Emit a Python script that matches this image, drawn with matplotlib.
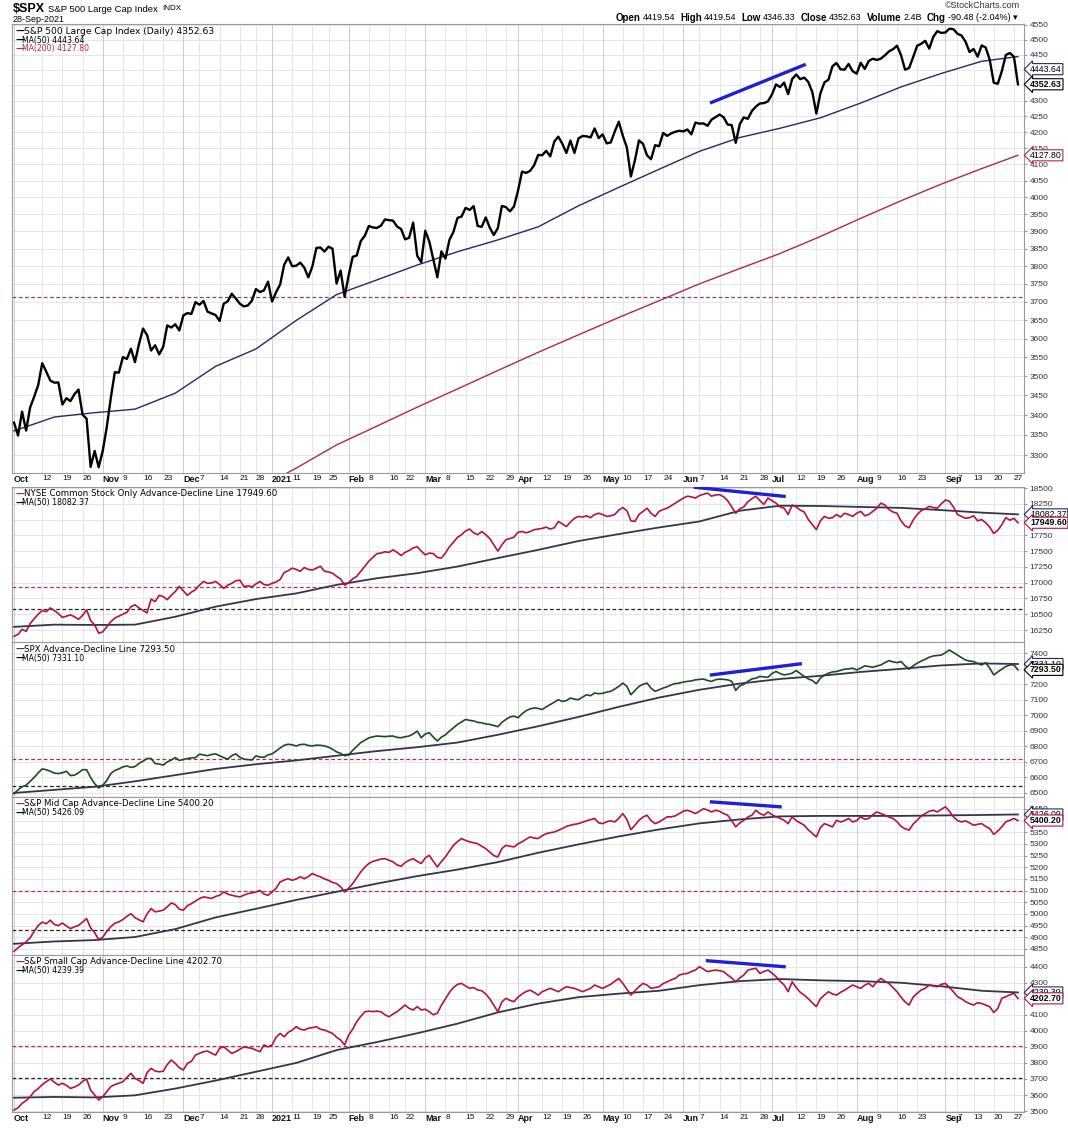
import numpy as np
import pandas as pd
import matplotlib
matplotlib.use('Agg')
import matplotlib.pyplot as plt
from matplotlib.ticker import FixedLocator, NullLocator

# trading days on the chart (Oct 1 2020 .. Sep 28 2021)
holidays = ['2020-11-26', '2020-12-25', '2021-01-01', '2021-01-18', '2021-02-15',
            '2021-04-02', '2021-05-31', '2021-07-05', '2021-09-06']
days = pd.bdate_range('2020-10-01', '2021-09-28')
days = days[~days.isin(pd.to_datetime(holidays))]

tick_dates = ['2020-10-01', '2020-10-12', '2020-10-19', '2020-10-26', '2020-11-02', '2020-11-09',
              '2020-11-16', '2020-11-23', '2020-12-01', '2020-12-07', '2020-12-14', '2020-12-21',
              '2020-12-28', '2021-01-04', '2021-01-11', '2021-01-19', '2021-01-25', '2021-02-01',
              '2021-02-08', '2021-02-16', '2021-02-22', '2021-03-01', '2021-03-08', '2021-03-15',
              '2021-03-22', '2021-03-29', '2021-04-01', '2021-04-12', '2021-04-19', '2021-04-26',
              '2021-05-03', '2021-05-10', '2021-05-17', '2021-05-24', '2021-06-01', '2021-06-07',
              '2021-06-14', '2021-06-21', '2021-06-28', '2021-07-01', '2021-07-12', '2021-07-19',
              '2021-07-26', '2021-08-02', '2021-08-09', '2021-08-16', '2021-08-23', '2021-09-01',
              '2021-09-07', '2021-09-13', '2021-09-20', '2021-09-27']
tick_labels = ['Oct', '12', '19', '26', 'Nov', '9', '16', '23', 'Dec', '7', '14', '21', '28',
               '2021', '11', '19', '25', 'Feb', '8', '16', '22', 'Mar', '8', '15', '22', '29',
               'Apr', '12', '19', '26', 'May', '10', '17', '24', 'Jun', '7', '14', '21', '28',
               'Jul', '12', '19', '26', 'Aug', '9', '16', '23', 'Sep', '7', '13', '20', '27']

# $SPX daily close
spx_close = [
    3380.8, 3348.4, 3408.6, 3360.9, 3419.4, 3446.8, 3477.1, 3534.2, 3511.9, 3488.7,
    3483.3, 3483.8, 3426.9, 3443.1, 3435.6, 3453.5, 3465.4, 3401.0, 3390.7, 3271.0,
    3310.1, 3270.0, 3310.2, 3369.2, 3443.4, 3510.5, 3509.4, 3550.5, 3545.5, 3572.7,
    3537.0, 3585.2, 3626.9, 3609.5, 3567.8, 3581.9, 3557.5, 3577.6, 3635.4, 3629.6,
    3638.4, 3621.6, 3662.5, 3669.0, 3666.7, 3699.1, 3692.0, 3702.3, 3672.8, 3668.1,
    3663.5, 3647.5, 3694.6, 3701.2, 3722.5, 3709.4, 3694.9, 3687.3, 3690.0, 3703.1,
    3735.4, 3727.0, 3732.0, 3756.1, 3700.7, 3726.9, 3748.1, 3803.8, 3824.7, 3799.6,
    3801.2, 3809.8, 3795.5, 3768.3, 3798.9, 3851.9, 3853.1, 3841.5, 3855.4, 3849.6,
    3750.8, 3787.4, 3714.2, 3773.9, 3826.3, 3830.2, 3871.7, 3886.8, 3915.6, 3911.2,
    3909.9, 3916.4, 3934.8, 3932.6, 3931.3, 3914.0, 3906.7, 3876.5, 3881.4, 3925.4,
    3829.3, 3811.2, 3901.8, 3870.3, 3819.7, 3768.5, 3841.9, 3821.4, 3875.4, 3898.8,
    3939.3, 3943.3, 3968.9, 3962.7, 3974.1, 3915.5, 3913.1, 3940.6, 3910.5, 3889.1,
    3909.5, 3974.5, 3971.1, 3958.6, 3972.9, 4019.9, 4077.9, 4073.9, 4080.0, 4097.2,
    4128.8, 4128.0, 4141.6, 4124.7, 4170.4, 4185.5, 4163.3, 4134.9, 4173.4, 4135.0,
    4180.2, 4187.6, 4186.7, 4183.2, 4211.5, 4181.2, 4192.7, 4164.7, 4167.6, 4201.6,
    4232.6, 4188.4, 4152.1, 4063.0, 4112.5, 4173.9, 4163.3, 4127.8, 4115.7, 4159.1,
    4155.9, 4197.1, 4188.1, 4196.0, 4200.9, 4204.1, 4202.0, 4208.1, 4192.9, 4229.9,
    4226.5, 4227.3, 4219.6, 4239.2, 4247.4, 4255.2, 4246.6, 4223.7, 4221.9, 4166.5,
    4224.8, 4246.4, 4241.8, 4266.5, 4280.7, 4290.6, 4291.8, 4297.5, 4319.9, 4352.3,
    4343.5, 4358.1, 4320.8, 4369.6, 4384.6, 4369.2, 4374.3, 4360.0, 4327.2, 4258.5,
    4323.1, 4358.7, 4367.5, 4411.8, 4422.3, 4401.5, 4400.6, 4419.2, 4395.3, 4387.2,
    4423.2, 4402.7, 4429.1, 4436.5, 4432.4, 4436.8, 4447.7, 4460.8, 4468.0, 4479.7,
    4448.1, 4400.3, 4405.8, 4441.7, 4479.5, 4486.2, 4496.2, 4469.9, 4509.4, 4528.8,
    4522.7, 4524.1, 4537.0, 4535.4, 4520.0, 4514.1, 4493.3, 4458.6, 4468.7, 4443.1,
    4480.7, 4473.8, 4433.0, 4357.7, 4354.2, 4395.6, 4449.0, 4455.5, 4443.1, 4352.63]

nyse_ad = [
    16150, 16180, 16260, 16230, 16350, 16430, 16500, 16560, 16540, 16600,
    16560, 16510, 16450, 16470, 16490, 16460, 16420, 16480, 16570, 16400,
    16330, 16200, 16220, 16300, 16380, 16440, 16470, 16500, 16530, 16620,
    16650, 16600, 16560, 16520, 16740, 16700, 16800, 16780, 16730, 16800,
    16860, 16940, 16870, 16800, 16850, 16890, 16960, 17020, 16990, 16995,
    17020, 16970, 16910, 16960, 16990, 17030, 17040, 16940, 16950, 16935,
    16980, 17020, 16970, 16960, 16990, 17010, 17050, 17160, 17190, 17230,
    17210, 17180, 17240, 17210, 17200, 17230, 17260, 17180, 17170, 17150,
    17100, 17060, 16960, 17000, 17060, 17100, 17180, 17260, 17340, 17400,
    17460, 17470, 17490, 17480, 17520, 17480, 17430, 17480, 17510, 17550,
    17570, 17500, 17440, 17470, 17460, 17400, 17390, 17470, 17570, 17640,
    17720, 17760, 17820, 17850, 17790, 17760, 17810, 17760, 17700, 17600,
    17500, 17600, 17680, 17700, 17720, 17800, 17810, 17790, 17810, 17840,
    17850, 17860, 17880, 17850, 17870, 17970, 17930, 17890, 17960, 18020,
    18050, 18040, 18060, 18030, 18080, 18100, 18080, 18050, 18060, 18080,
    18150, 18190, 18140, 17980, 17970, 18080, 18130, 18180, 18100, 18050,
    18130, 18160, 18180, 18220, 18260, 18300, 18340, 18370, 18360, 18340,
    18380, 18400, 18420, 18370, 18390, 18395, 18360, 18300, 18200, 18100,
    18170, 18200, 18280, 18330, 18370, 18300, 18240, 18340, 18300, 18260,
    18200, 18180, 18080, 18230, 18200, 18150, 18120, 18000, 17920, 17840,
    17980, 18050, 18020, 18030, 18080, 18040, 18100, 18080, 18050, 18100,
    18130, 18060, 18080, 18130, 18180, 18260, 18230, 18160, 18120, 18100,
    17980, 17900, 17870, 17990, 18080, 18140, 18170, 18210, 18190, 18180,
    18250, 18310, 18290, 18200, 18080, 18050, 18020, 18030, 18060, 17980,
    18000, 17950, 17880, 17780, 17830, 17920, 18030, 17990, 18020, 17949.60]

spx_ad = [
    6495, 6520, 6540, 6550, 6575, 6600, 6630, 6655, 6650, 6640,
    6628, 6625, 6630, 6640, 6612, 6615, 6630, 6650, 6650, 6600,
    6560, 6532, 6550, 6580, 6625, 6645, 6655, 6668, 6674, 6665,
    6670, 6690, 6705, 6722, 6722, 6690, 6686, 6680, 6700, 6712,
    6728, 6710, 6715, 6722, 6726, 6728, 6750, 6745, 6740, 6748,
    6752, 6740, 6728, 6718, 6740, 6752, 6730, 6718, 6715, 6712,
    6739, 6732, 6730, 6745, 6752, 6770, 6790, 6807, 6814, 6810,
    6803, 6812, 6814, 6806, 6803, 6808, 6807, 6803, 6795, 6782,
    6765, 6755, 6740, 6745, 6775, 6800, 6825, 6840, 6855, 6862,
    6867, 6865, 6863, 6866, 6867, 6858, 6856, 6862, 6867, 6880,
    6899, 6856, 6880, 6888, 6860, 6835, 6860, 6875, 6899, 6920,
    6942, 6958, 6974, 6968, 6964, 6955, 6952, 6945, 6942, 6935,
    6927, 6955, 6974, 6990, 6995, 6985, 7010, 7030, 7042, 7048,
    7045, 7038, 7055, 7070, 7085, 7101, 7090, 7095, 7112, 7105,
    7101, 7118, 7133, 7127, 7144, 7140, 7142, 7150, 7155, 7170,
    7187, 7208, 7187, 7133, 7160, 7187, 7200, 7208, 7175, 7155,
    7165, 7176, 7185, 7197, 7205, 7208, 7215, 7219, 7222, 7229,
    7232, 7234, 7225, 7219, 7230, 7234, 7232, 7229, 7220, 7161,
    7190, 7200, 7219, 7235, 7240, 7251, 7248, 7246, 7270, 7283,
    7270, 7261, 7265, 7272, 7289, 7270, 7251, 7235, 7225, 7204,
    7240, 7260, 7272, 7280, 7283, 7290, 7298, 7300, 7304, 7293,
    7305, 7319, 7315, 7310, 7318, 7325, 7340, 7353, 7345, 7340,
    7347, 7320, 7298, 7320, 7336, 7350, 7362, 7375, 7383, 7386,
    7389, 7404, 7421, 7405, 7389, 7372, 7357, 7350, 7347, 7335,
    7325, 7340, 7304, 7261, 7280, 7298, 7315, 7325, 7325, 7293.50]

mid_ad = [
    4840, 4855, 4868, 4880, 4898, 4925, 4950, 4965, 4958, 4973,
    4955, 4950, 4961, 4948, 4937, 4945, 4951, 4965, 4980, 4940,
    4920, 4890, 4900, 4925, 4945, 4960, 4966, 4976, 4990, 5001,
    4984, 4975, 4966, 5000, 5023, 5009, 5012, 5016, 5030, 5047,
    5040, 5020, 5016, 5035, 5044, 5055, 5066, 5073, 5070, 5066,
    5075, 5080, 5094, 5085, 5080, 5076, 5073, 5080, 5087, 5090,
    5094, 5101, 5085, 5080, 5094, 5110, 5137, 5145, 5151, 5144,
    5150, 5159, 5151, 5160, 5173, 5165, 5159, 5150, 5144, 5135,
    5130, 5116, 5094, 5110, 5130, 5155, 5180, 5200, 5216, 5225,
    5230, 5235, 5237, 5230, 5223, 5210, 5204, 5220, 5230, 5237,
    5225, 5216, 5240, 5251, 5225, 5201, 5225, 5244, 5270, 5294,
    5310, 5323, 5315, 5309, 5305, 5301, 5290, 5280, 5265, 5250,
    5244, 5280, 5294, 5290, 5287, 5300, 5309, 5320, 5330, 5325,
    5323, 5335, 5344, 5348, 5351, 5358, 5366, 5375, 5380, 5384,
    5387, 5393, 5399, 5404, 5409, 5390, 5387, 5395, 5399, 5394,
    5410, 5430, 5405, 5361, 5380, 5401, 5415, 5423, 5400, 5387,
    5394, 5405, 5416, 5416, 5420, 5430, 5440, 5444, 5438, 5430,
    5440, 5451, 5445, 5437, 5444, 5440, 5430, 5423, 5400, 5373,
    5390, 5401, 5415, 5423, 5444, 5430, 5423, 5437, 5425, 5416,
    5410, 5401, 5387, 5416, 5400, 5390, 5380, 5360, 5345, 5330,
    5370, 5387, 5380, 5373, 5401, 5394, 5400, 5409, 5394, 5400,
    5416, 5405, 5409, 5425, 5437, 5430, 5423, 5415, 5409, 5395,
    5375, 5365, 5359, 5385, 5401, 5420, 5430, 5440, 5444, 5437,
    5448, 5459, 5440, 5416, 5400, 5394, 5399, 5390, 5380, 5384,
    5387, 5375, 5366, 5341, 5355, 5373, 5395, 5401, 5409, 5400.20]

small_ad = [
    3506, 3520, 3548, 3565, 3589, 3621, 3640, 3665, 3683, 3700,
    3680, 3662, 3673, 3660, 3641, 3650, 3662, 3685, 3700, 3631,
    3600, 3569, 3589, 3620, 3652, 3665, 3673, 3683, 3710, 3735,
    3704, 3690, 3673, 3740, 3766, 3749, 3745, 3748, 3790, 3818,
    3797, 3770, 3756, 3797, 3810, 3849, 3860, 3870, 3874, 3860,
    3849, 3891, 3901, 3880, 3860, 3870, 3885, 3901, 3895, 3891,
    3880, 3870, 3912, 3900, 3912, 3960, 3984, 3963, 3990, 4005,
    4026, 4010, 4005, 4016, 4020, 4026, 4010, 4005, 3995, 3984,
    3960, 3943, 3912, 3974, 4010, 4057, 4090, 4119, 4123, 4120,
    4123, 4119, 4100, 4088, 4105, 4119, 4140, 4161, 4140, 4130,
    4151, 4130, 4135, 4119, 4100, 4110, 4160, 4200, 4240, 4270,
    4290, 4296, 4280, 4265, 4270, 4255, 4250, 4230, 4200, 4160,
    4119, 4180, 4203, 4190, 4182, 4210, 4230, 4245, 4254, 4240,
    4223, 4244, 4255, 4265, 4255, 4244, 4260, 4275, 4270, 4265,
    4255, 4244, 4255, 4265, 4286, 4275, 4265, 4278, 4290, 4310,
    4327, 4296, 4260, 4223, 4250, 4275, 4296, 4285, 4265, 4270,
    4275, 4295, 4306, 4318, 4327, 4348, 4355, 4358, 4370, 4379,
    4400, 4385, 4369, 4375, 4379, 4375, 4369, 4348, 4330, 4306,
    4330, 4348, 4379, 4385, 4390, 4358, 4370, 4379, 4360, 4338,
    4310, 4286, 4244, 4306, 4270, 4240, 4223, 4200, 4175, 4151,
    4200, 4223, 4244, 4230, 4223, 4240, 4254, 4270, 4286, 4275,
    4265, 4285, 4296, 4275, 4306, 4327, 4310, 4296, 4270, 4244,
    4210, 4180, 4161, 4210, 4234, 4255, 4265, 4286, 4280, 4275,
    4290, 4296, 4270, 4244, 4213, 4200, 4182, 4170, 4161, 4175,
    4171, 4161, 4150, 4115, 4140, 4203, 4213, 4225, 4234, 4202.70]

# moving averages, read every 10 trading days
ma_idx = list(range(0, 250, 10)) + [249]
spx_ma50 = [3360, 3395, 3406, 3415, 3456, 3526, 3572, 3649, 3720, 3761, 3803, 3841, 3875,
            3913, 3975, 4030, 4085, 4140, 4183, 4212, 4245, 4292, 4344, 4388, 4428, 4443.64]
ma200_idx = [64] + list(range(70, 250, 10)) + [249]
spx_ma200 = [3236, 3268, 3325, 3372, 3420, 3467, 3515, 3563, 3610, 3657, 3703, 3750, 3793,
             3836, 3885, 3938, 3990, 4040, 4087, 4127.80]
nyse_ma50 = [16300, 16335, 16330, 16335, 16460, 16620, 16740, 16830, 16965, 17070, 17150,
             17256, 17390, 17520, 17660, 17770, 17875, 17970, 18140, 18220, 18215, 18200,
             18185, 18150, 18110, 18082.37]
spxad_ma50 = [6500, 6520, 6540, 6575, 6615, 6655, 6685, 6710, 6740, 6770, 6795, 6825, 6875,
              6930, 6990, 7055, 7115, 7165, 7205, 7235, 7255, 7280, 7300, 7322, 7335, 7331.10]
mid_ma50 = [4872, 4882, 4888, 4901, 4935, 4985, 5022, 5060, 5095, 5130, 5162, 5190, 5222,
            5262, 5298, 5332, 5362, 5388, 5405, 5418, 5420, 5420, 5420, 5422, 5424, 5426.09]
small_ma50 = [3583, 3588, 3585, 3598, 3640, 3690, 3745, 3800, 3880, 3930, 3985, 4045, 4115,
              4170, 4210, 4232, 4250, 4285, 4310, 4323, 4315, 4310, 4300, 4278, 4250, 4239.39]

# drawn annotation lines (blue)
spx_trend = (['2021-06-10', '2021-07-14'], [4294, 4416])
nyse_trend = (['2021-06-04', '2021-07-07'], [18510, 18368])
spxad_trend = (['2021-06-10', '2021-07-13'], [7261, 7332])
mid_trend = (['2021-06-10', '2021-07-06'], [5480, 5459])
small_trend = (['2021-06-09', '2021-07-07'], [4437, 4400])

# horizontal dashed levels
spx_levels = [3714]
nyse_levels = [16925, 16585]
spxad_levels = [6722, 6547]
mid_levels = [5097, 4930]
small_levels = [3907, 3704]

W, H = 1068, 1128
RED = '#b3143c'
NAVY = '#23286a'
GRAY_MA = '#34344e'
BLUE = '#1f1fd8'
SANS = ['Liberation Sans', 'DejaVu Sans']

x = np.arange(len(days))
tick_pos = [days.get_loc(pd.Timestamp(d)) for d in tick_dates]


def pos(d):
    return [days.get_loc(pd.Timestamp(s)) for s in d]


def is_month(lab):
    return not lab.isdigit() or lab == '2021'


fig = plt.figure(figsize=(W / 100, H / 100), dpi=100)
renderer = fig.canvas.get_renderer()


def fig_text(px, py, s, **kw):
    return fig.text(px / W, 1 - py / H, s, va='center', **kw)


def text_row(py, parts, left=None, right=None):
    # parts: (text, fontsize, bold, gap_after)
    objs = [fig_text(0, py, s, fontsize=fs, fontweight='bold' if b else 'normal', family=SANS)
            for s, fs, b, g in parts]
    widths = [t.get_window_extent(renderer).width for t in objs]
    total = sum(widths) + sum(g for _, _, _, g in parts[:-1])
    px = left if left is not None else right - total
    for t, w, (_, _, _, g) in zip(objs, widths, parts):
        t.set_x(px / W)
        px += w + g


def make_axes(top, bottom, ylim, yticks, show_x, log=False):
    ax = fig.add_axes([12 / W, 1 - bottom / H, 1012 / W, (bottom - top) / H])
    if log:
        ax.set_yscale('log')
    ax.set_xlim(-0.5, 250.5)
    ax.set_ylim(*ylim)
    ax.yaxis.set_major_locator(FixedLocator(yticks))
    ax.yaxis.set_minor_locator(NullLocator())
    ax.set_yticklabels(['%d' % v for v in yticks], family='Liberation Sans')
    ax.yaxis.tick_right()
    ax.tick_params(axis='y', labelsize=6, length=2, pad=2, color='#999999', labelcolor='#333333')
    for v in yticks:
        ax.axhline(v, color='#e6e6e6', lw=0.7, zorder=0)
    for p, lab in zip(tick_pos, tick_labels):
        ax.axvline(p, color='#cccccc' if is_month(lab) else '#e6e6e6', lw=0.7, zorder=0)
    ax.set_xticks(tick_pos)
    if show_x:
        ax.set_xticklabels(tick_labels, family='Liberation Sans', fontsize=6)
        for t, lab in zip(ax.get_xticklabels(), tick_labels):
            t.set_ha('left')
            if is_month(lab):
                t.set_fontweight('bold')
                t.set_fontsize(6.5)
        ax.tick_params(axis='x', length=0, pad=1.5, labelcolor='#111111')
    else:
        ax.tick_params(axis='x', length=0, labelbottom=False)
    for s in ax.spines.values():
        s.set_color('#9a9a9a')
        s.set_linewidth(0.8)
    return ax


def tag(ax, val, edge, bold=False, at=None):
    ax.text(1.006, val if at is None else at, '%.2f' % val, transform=ax.get_yaxis_transform(),
            ha='left', va='center', fontsize=6.3, family='Liberation Sans',
            fontweight='bold' if bold else 'normal', color='black',
            zorder=10 if bold else 9, clip_on=False,
            bbox=dict(boxstyle='larrow,pad=0.12', fc='white', ec=edge, lw=0.8))


def legend(top, dash_color, label, ma_label):
    fig_text(15, top + 7, '\u2014', color=dash_color, fontsize=6.5, fontweight='bold')
    fig_text(24, top + 7, label, color='black', fontsize=6.2)
    fig_text(15, top + 16, '\u2014', color='black', fontsize=6.5, fontweight='bold')
    fig_text(22, top + 16, ma_label, color='black', fontsize=5.6)


def ad_panel(top, bottom, ylim, yticks, show_x, values, ma, levels, trend, color, edge,
             label, ma_label):
    ax = make_axes(top, bottom, ylim, yticks, show_x)
    ax.axhline(levels[0], color='#b03050', lw=0.9, ls=(0, (3, 2)), zorder=2)
    ax.axhline(levels[1], color='#222222', lw=0.9, ls=(0, (3, 2)), zorder=2)
    ax.plot(ma_idx, ma, color=GRAY_MA, lw=1.3, zorder=3)
    ax.plot(x, values, color=color, lw=1.2, zorder=4)
    ax.plot(pos(trend[0]), trend[1], color=BLUE, lw=2.4, zorder=5)
    tag(ax, ma[-1], NAVY)
    tag(ax, values[-1], edge, bold=True)
    legend(top, color, label, ma_label)
    return ax


# ---- top panel: $SPX (log scale)
ax1 = make_axes(24, 473, (3256, 4553), list(range(3300, 4551, 50)), True, log=True)
ax1.axhline(spx_levels[0], color='#8e3a8e', lw=0.9, ls=(0, (3, 2)), zorder=2)
ax1.plot(ma200_idx, spx_ma200, color='#b02a45', lw=1.0, zorder=3)
ax1.plot(ma_idx, spx_ma50, color=NAVY, lw=1.0, zorder=3)
ax1.plot(x, spx_close, color='black', lw=1.7, zorder=4)
ax1.plot(pos(spx_trend[0]), spx_trend[1], color=BLUE, lw=2.4, zorder=5)
tag(ax1, spx_ma50[-1], NAVY, at=4402)
tag(ax1, spx_ma200[-1], '#b02a45')
tag(ax1, spx_close[-1], 'black', bold=True)
fig_text(15, 31, '\u2014', color='black', fontsize=6.5, fontweight='bold')
fig_text(24, 31, 'S&P 500 Large Cap Index (Daily) 4352.63', fontsize=6.6)
fig_text(15, 40, '\u2014', color='black', fontsize=6.5, fontweight='bold')
fig_text(22, 40, 'MA(50) 4443.64', fontsize=5.6)
fig_text(15, 49, '\u2014', color='#b02a45', fontsize=6.5, fontweight='bold')
fig_text(22, 49, 'MA(200) 4127.80', color='#b02a45', fontsize=5.6)

# header
text_row(9, [('$SPX', 9, True, 3), ('S&P 500 Large Cap Index', 6.8, False, 4),
             ('INDX', 5.8, False, 0)], left=13)
fig_text(13, 19, '28-Sep-2021', fontsize=6.5, family=SANS)
fig_text(1020, 6, '\u00a9StockCharts.com', fontsize=6.5, ha='right', color='#333333', family=SANS)
text_row(18, [('Open', 7, True, 2), ('4419.54', 6.5, False, 5), ('High', 7, True, 2),
              ('4419.54', 6.5, False, 5), ('Low', 7, True, 2), ('4346.33', 6.5, False, 5),
              ('Close', 7, True, 2), ('4352.63', 6.5, False, 5), ('Volume', 7, True, 2),
              ('2.4B', 6.5, False, 5), ('Chg', 7, True, 2), ('-90.48 (-2.04%)', 6.5, False, 2),
              ('\u25be', 6.5, False, 0)], right=1017)

# ---- breadth panels
ad_panel(487, 642, (16060, 18516), list(range(16250, 18501, 250)), False, nyse_ad, nyse_ma50,
         nyse_levels, nyse_trend, RED, RED,
         'NYSE Common Stock Only Advance-Decline Line 17949.60', 'MA(50) 18082.37')
ad_panel(642, 797, (6474, 7473), list(range(6500, 7401, 100)), False, spx_ad, spxad_ma50,
         spxad_levels, spxad_trend, '#1f4a1f', 'black',
         'SPX Advance-Decline Line 7293.50', 'MA(50) 7331.10')
ad_panel(797, 955, (4824, 5501), list(range(4850, 5451, 50)), False, mid_ad, mid_ma50,
         mid_levels, mid_trend, RED, RED,
         'S&P Mid Cap Advance-Decline Line 5400.20', 'MA(50) 5426.09')
ad_panel(955, 1112, (3494, 4473), list(range(3500, 4401, 100)), True, small_ad, small_ma50,
         small_levels, small_trend, RED, RED,
         'S&P Small Cap Advance-Decline Line 4202.70', 'MA(50) 4239.39')

fig.savefig('out.png', dpi=100)
